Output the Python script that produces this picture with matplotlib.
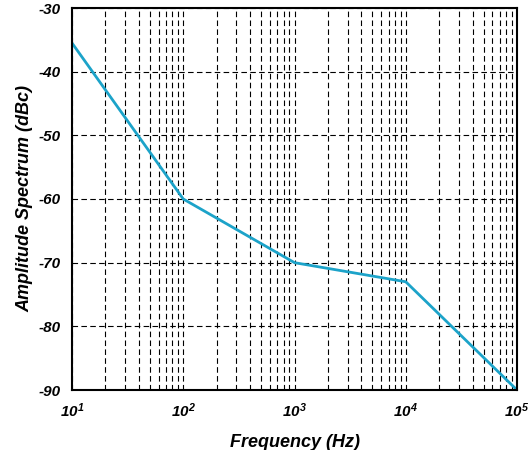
import matplotlib
matplotlib.use("Agg")
import matplotlib.pyplot as plt
from matplotlib.ticker import LogLocator, NullFormatter

freq = [10, 100, 1000, 10000, 100000]
amp = [-35.5, -60, -70, -73, -90]
yticks = [-90, -80, -70, -60, -50, -40, -30]

plt.rcParams['font.family'] = ['Liberation Sans', 'DejaVu Sans']
fig = plt.figure(figsize=(5.31, 4.5), dpi=100)
ax = fig.add_axes([72/531, 60/450, 445/531, 382/450])
ax.plot(freq, amp, color='#1ca3c9', lw=2)
ax.set_xscale('log')
ax.set_xlim(10, 1e5)
ax.set_ylim(-90, -30)
ax.set_yticks(yticks)
ax.set_yticklabels([str(v) for v in yticks], fontweight='bold', fontstyle='italic', fontsize=11)
ax.xaxis.set_minor_locator(LogLocator(base=10, subs=range(2, 10)))
ax.xaxis.set_minor_formatter(NullFormatter())
for lbl in ax.get_xticklabels():
    lbl.set_fontweight('bold'); lbl.set_fontstyle('italic'); lbl.set_fontsize(11)
ax.grid(True, which='both', axis='x', color='black', ls=(0, (5, 3)), lw=0.8)
ax.grid(True, which='major', axis='y', color='black', ls=(0, (5, 3)), lw=0.8)
ax.tick_params(which='both', length=0, pad=8)
for s in ax.spines.values():
    s.set_linewidth(1.5)
ax.set_xlabel('Frequency (Hz)', fontsize=13, fontweight='bold', fontstyle='italic', labelpad=10)
ax.set_ylabel('Amplitude Spectrum (dBc)', fontsize=13, fontweight='bold', fontstyle='italic')
fig.savefig('out.png', dpi=100)
